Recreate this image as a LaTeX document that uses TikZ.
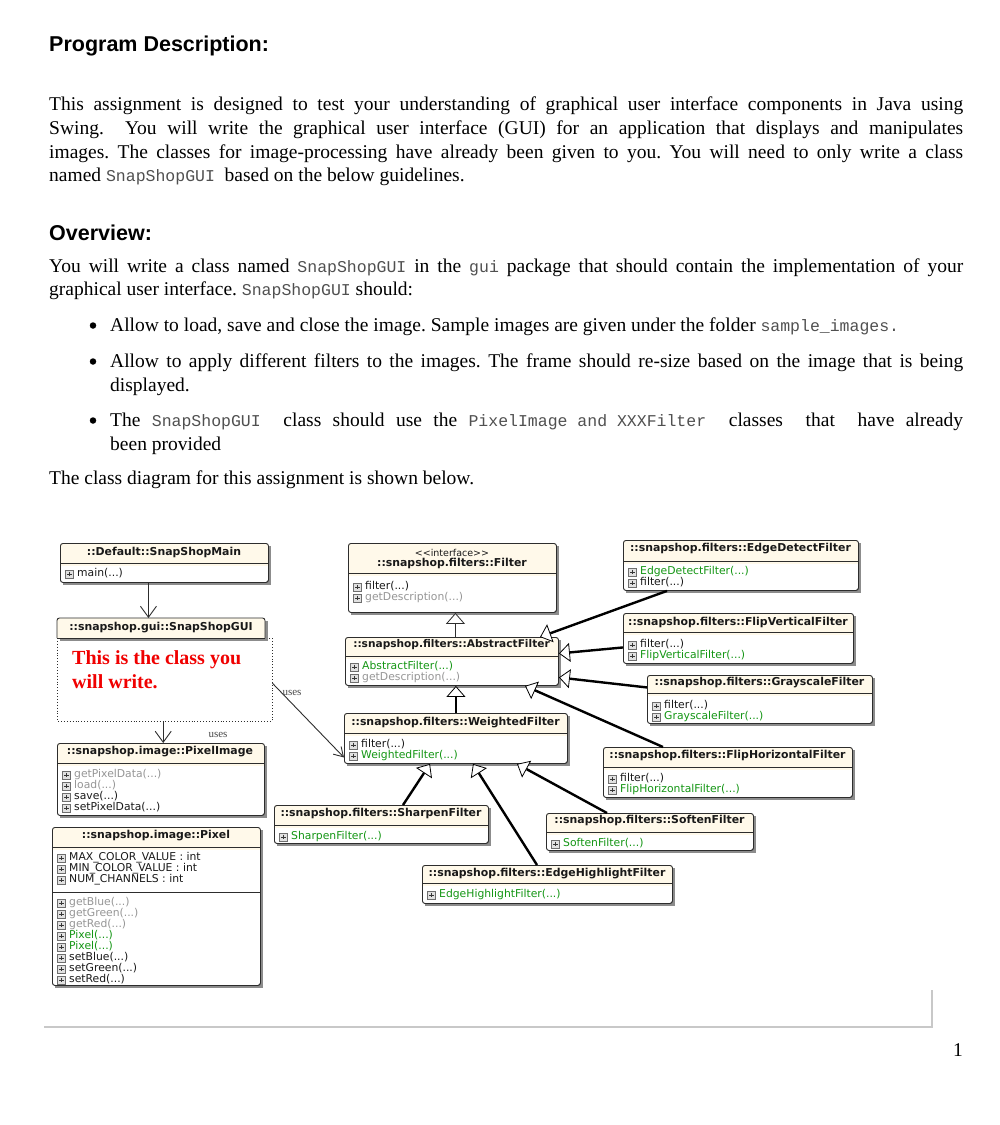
\documentclass[tikz,border=0pt]{standalone}
\usepackage{fontspec}
\setmainfont{Liberation Serif}
\setmonofont{Liberation Mono}
\newfontfamily\arialf{Liberation Sans}
\newfontfamily\umlf{DejaVu Sans}
\usetikzlibrary{arrows.meta}
\frenchspacing
\definecolor{hdrc}{RGB}{255,249,234}
\definecolor{shadowc}{RGB}{140,140,140}
\definecolor{boxline}{RGB}{45,45,45}
\definecolor{greenc}{RGB}{20,150,20}
\definecolor{grayc}{RGB}{150,150,150}
\definecolor{blackc}{RGB}{25,25,25}
\definecolor{codec}{RGB}{80,80,80}
\definecolor{redc}{RGB}{240,0,0}
\definecolor{iconc}{RGB}{110,110,110}
\definecolor{iconfill}{RGB}{225,225,225}
\definecolor{framec}{RGB}{200,200,200}
\newcommand\codet[1]{{\fontsize{16.5}{20}\selectfont\ttfamily\color{codec}#1}}
\tikzset{
  bodytext/.style={font={\fontsize{19.5}{23.5}\selectfont}, inner sep=0pt, anchor=base west},
  headtext/.style={font={\arialf\bfseries\fontsize{21.5}{24}\selectfont}, inner sep=0pt, anchor=base west},
  bulletdot/.style={circle, fill=black, inner sep=0pt, minimum size=6.5pt},
  boxn/.style={draw=boxline, line width=0.9pt, rounded corners=2.5pt, inner sep=0pt, fill=none},
  hdrtext/.style={font={\umlf\bfseries\fontsize{10.9}{12}\selectfont}, inner sep=0pt, text=blackc},
  stereo/.style={font={\umlf\fontsize{9.5}{10}\selectfont}, inner sep=0pt, text=blackc},
  rowtext/.style={font={\umlf\fontsize{10.8}{11}\selectfont}, inner sep=0pt, text height=8pt, text depth=2.2pt, anchor=west},
  sepline/.style={draw=boxline, line width=0.9pt},
  redtext/.style={font={\bfseries\fontsize{20}{24}\selectfont}, text=redc, inner sep=0pt, anchor=base west},
  useslbl/.style={font={\fontsize{11}{12}\selectfont}, text=blackc!80, inner sep=0pt},
  gen/.style={-{Triangle[fill=white,length=11pt,width=19pt,line width=0.8pt]}, line width=2.4pt, draw=black},
  genthin/.style={-{Triangle[fill=white,length=11pt,width=19pt,line width=0.8pt]}, line width=0.9pt, draw=boxline},
  assoc/.style={-{Straight Barb[length=11pt,width=16pt,line width=0.9pt]}, line width=0.9pt, draw=boxline},
  assocs/.style={-{Straight Barb[length=9pt,width=11pt,line width=0.9pt]}, line width=0.9pt, draw=boxline},
}
% name, x, y, w, h, separator y
\newcommand\classbox[6]{%
  \fill[shadowc] (#2+2.5,#3+2.5) rectangle (#2+#4+2.5,#3+#5+2.5);
  \fill[white, rounded corners=2.5pt] (#2,#3) rectangle (#2+#4,#3+#5);
  \begin{scope}
    \clip[rounded corners=2.5pt] (#2,#3) rectangle (#2+#4,#3+#5);
    \fill[hdrc] (#2,#3) rectangle (#2+#4,#6+2.5);
  \end{scope}
  \node[boxn, minimum width=#4pt, minimum height=#5pt, anchor=north west] (#1) at (#2,#3) {};
  \draw[sepline] (#2,#6) -- (#2+#4,#6);
}
% name, icon x, y, colour, text
\newcommand\umlrow[5]{%
  \draw[iconc, fill=iconfill, line width=0.6pt] (#2,#3-4) rectangle (#2+8.5,#3+4);
  \draw[iconc!50!black, line width=0.8pt] (#2+2,#3) -- (#2+6.5,#3) (#2+4.25,#3-2.3) -- (#2+4.25,#3+2.3);
  \node[rowtext, text=#4] (#1) at (#2+12,#3) {#5};
}
\begin{document}
\begin{tikzpicture}[x=1pt,y=-1pt]
\useasboundingbox (0,0) rectangle (1000,1125);
\fill[white] (0,0) rectangle (1000,1125);

% ---------- text ----------
\node[headtext] (h1) at (49,51) {Program Description:};
\node[bodytext] (t1) at (49,110) {\makebox[914pt][s]{This assignment is designed to test your understanding of graphical user interface components in Java using}};
\node[bodytext] (t2) at (49,134) {\makebox[914pt][s]{Swing.\ \ You will write the graphical user interface (GUI) for an application that displays and manipulates}};
\node[bodytext] (t3) at (49,158) {\makebox[914pt][s]{images. The classes for image-processing have already been given to you. You will need to only write a class}};
\node[bodytext] (t4) at (49,181) {named \codet{SnapShopGUI}\ \ based on the below guidelines.};

\node[headtext] (h2) at (49,240) {Overview:};
\node[bodytext] (t5) at (49,272) {\makebox[914pt][s]{You will write a class named \codet{SnapShopGUI} in the \codet{gui} package that should contain the implementation of your}};
\node[bodytext] (t6) at (49,295) {graphical user interface. \codet{SnapShopGUI} should:};

\node[bulletdot] (bl1) at (93,325.5) {};
\node[bodytext] (t7) at (110,331) {Allow to load, save and close the image. Sample images are given under the folder \codet{sample\_images.}};
\node[bulletdot] (bl2) at (93,361.5) {};
\node[bodytext] (t8) at (110,367) {\makebox[853pt][s]{Allow to apply different filters to the images. The frame should re-size based on the image that is being}};
\node[bodytext] (t9) at (110,391) {displayed.};
\node[bulletdot] (bl3) at (93,420.5) {};
\node[bodytext] (t10) at (110,426) {\makebox[853pt][s]{The \codet{SnapShopGUI}\ \ class should use the \codet{PixelImage and XXXFilter}\ \ classes\ \ that\ \ have already}};
\node[bodytext] (t11) at (110,450) {been provided};
\node[bodytext] (t12) at (49,484) {The class diagram for this assignment is shown below.};

% ---------- class boxes ----------
\classbox{main}{60}{543}{208}{39}{563}
\node[hdrtext] (mainH) at (164,552) {::Default::SnapShopMain};
\umlrow{r1}{65}{574}{blackc}{main(...)}

% GUI (dotted body)
\node[inner sep=0pt, minimum width=215pt, minimum height=103pt, anchor=north west] (gui) at (57,618) {};
\draw[boxline, line width=0.9pt, dotted] (57,638) rectangle (272,721);
\fill[shadowc] (59.5,620.5) rectangle (267.5,640.5);
\draw[boxline, line width=0.9pt, fill=hdrc, rounded corners=2.5pt] (57,638) -- (57,618) -- (265,618) -- (265,638);
\draw[boxline, line width=0.9pt] (57,638) -- (265,638);
\node[hdrtext] (guiH) at (161,628) {::snapshop.gui::SnapShopGUI};
\node[redtext] (red1) at (72,664) {This is the class you};
\node[redtext] (red2) at (72,688) {will write.};

\classbox{pimg}{57}{743}{207}{72}{763}
\node[hdrtext] (pimgH) at (160,752) {::snapshop.image::PixelImage};
\umlrow{r2}{62}{775}{grayc}{getPixelData(...)}
\umlrow{r3}{62}{786}{grayc}{load(...)}
\umlrow{r4}{62}{797}{blackc}{save(...)}
\umlrow{r5}{62}{808}{blackc}{setPixelData(...)}

\classbox{pix}{52}{827}{208}{158}{847}
\draw[sepline] (52,892) -- (260,892);
\node[hdrtext] (pixH) at (156,836) {::snapshop.image::Pixel};
\umlrow{r6}{57}{858}{blackc}{MAX\_COLOR\_VALUE : int}
\umlrow{r7}{57}{869}{blackc}{MIN\_COLOR\_VALUE : int}
\umlrow{r8}{57}{880}{blackc}{NUM\_CHANNELS : int}
\umlrow{r9}{57}{903}{grayc}{getBlue(...)}
\umlrow{r10}{57}{914}{grayc}{getGreen(...)}
\umlrow{r11}{57}{925}{grayc}{getRed(...)}
\umlrow{r12}{57}{936}{greenc}{Pixel(...)}
\umlrow{r13}{57}{947}{greenc}{Pixel(...)}
\umlrow{r14}{57}{958}{blackc}{setBlue(...)}
\umlrow{r15}{57}{969}{blackc}{setGreen(...)}
\umlrow{r16}{57}{980}{blackc}{setRed(...)}

\classbox{flt}{348}{543}{208}{69}{573}
\node[stereo] (fltS) at (452,553) {<<interface>>};
\node[hdrtext] (fltH) at (452,563) {::snapshop.filters::Filter};
\umlrow{r17}{353}{587}{blackc}{filter(...)}
\umlrow{r18}{353}{598}{grayc}{getDescription(...)}

\classbox{abs}{345}{637}{213}{48}{656}
\node[hdrtext, font={\umlf\bfseries\fontsize{10.6}{12}\selectfont}] (absH) at (451.5,645) {::snapshop.filters::AbstractFilter};
\umlrow{r19}{350}{667}{greenc}{AbstractFilter(...)}
\umlrow{r20}{350}{678}{grayc}{getDescription(...)}

\classbox{wf}{344}{713}{223}{50}{733}
\node[hdrtext] (wfH) at (455.5,723) {::snapshop.filters::WeightedFilter};
\umlrow{r21}{349}{745}{blackc}{filter(...)}
\umlrow{r22}{349}{756}{greenc}{WeightedFilter(...)}

\classbox{ed}{623}{540}{235}{50}{561}
\node[hdrtext] (edH) at (740.5,549) {::snapshop.filters::EdgeDetectFilter};
\umlrow{r23}{628}{572}{greenc}{EdgeDetectFilter(...)}
\umlrow{r24}{628}{583}{blackc}{filter(...)}

\classbox{fv}{623}{613}{230}{50}{632}
\node[hdrtext] (fvH) at (738,622) {::snapshop.filters::FlipVerticalFilter};
\umlrow{r25}{628}{645}{blackc}{filter(...)}
\umlrow{r26}{628}{656}{greenc}{FlipVerticalFilter(...)}

\classbox{gs}{647}{675}{225}{48}{693}
\node[hdrtext] (gsH) at (759.5,683) {::snapshop.filters::GrayscaleFilter};
\umlrow{r27}{652}{706}{blackc}{filter(...)}
\umlrow{r28}{652}{717}{greenc}{GrayscaleFilter(...)}

\classbox{fh}{603}{747}{249}{50}{767}
\node[hdrtext] (fhH) at (727.5,755) {::snapshop.filters::FlipHorizontalFilter};
\umlrow{r29}{608}{779}{blackc}{filter(...)}
\umlrow{r30}{608}{790}{greenc}{FlipHorizontalFilter(...)}

\classbox{sh}{274}{805}{214}{38}{825}
\node[hdrtext] (shH) at (381,813) {::snapshop.filters::SharpenFilter};
\umlrow{r31}{279}{837}{greenc}{SharpenFilter(...)}

\classbox{sf}{546}{813}{207}{37}{832}
\node[hdrtext] (sfH) at (649.5,820) {::snapshop.filters::SoftenFilter};
\umlrow{r32}{551}{844}{greenc}{SoftenFilter(...)}

\classbox{eh}{422}{865}{250}{38}{883}
\node[hdrtext] (ehH) at (547,874) {::snapshop.filters::EdgeHighlightFilter};
\umlrow{r33}{427}{895}{greenc}{EdgeHighlightFilter(...)}

% ---------- connectors ----------
\draw[assoc] ([xshift=-16pt]main.south) -- ([xshift=-16pt]main.south |- gui.north);
\draw[assoc] ([xshift=-1.5pt]gui.south) -- ([xshift=-1.5pt]gui.south |- pimg.north);
\draw[assocs] ([yshift=-13.5pt]gui.east) -- ([yshift=-19pt]wf.west);
\node[useslbl] (u1) at (218,735) {uses};
\node[useslbl] (u2) at (292,693) {uses};

\draw[genthin] ([xshift=3.5pt]abs.north) -- ([xshift=3.5pt]abs.north |- flt.south);
\draw[gen] (wf.north) -- (wf.north |- abs.south);
\draw[gen] ([xshift=44pt]ed.south west) -- ([xshift=195pt]abs.north west);
\draw[gen] ([yshift=-9pt]fv.west) -- ([yshift=8pt]abs.east);
\draw[gen] ([yshift=12pt]gs.west) -- ([yshift=-16pt]abs.east);
\draw[gen] ([xshift=60pt]fh.north west) -- ([xshift=180pt]abs.south west);
\draw[gen] ([xshift=129pt]sh.north west) -- ([xshift=86pt]wf.south west);
\draw[gen] ([xshift=115pt]eh.north west) -- ([xshift=129pt]wf.south west);
\draw[gen] ([xshift=61pt]sf.north west) -- ([xshift=173pt]wf.south west);

% frame and page number
\draw[framec, line width=1.5pt] (44,1027) -- (932,1027) -- (932,990);
\node[bodytext] (pg) at (953,1056) {1};
\end{tikzpicture}
\end{document}
